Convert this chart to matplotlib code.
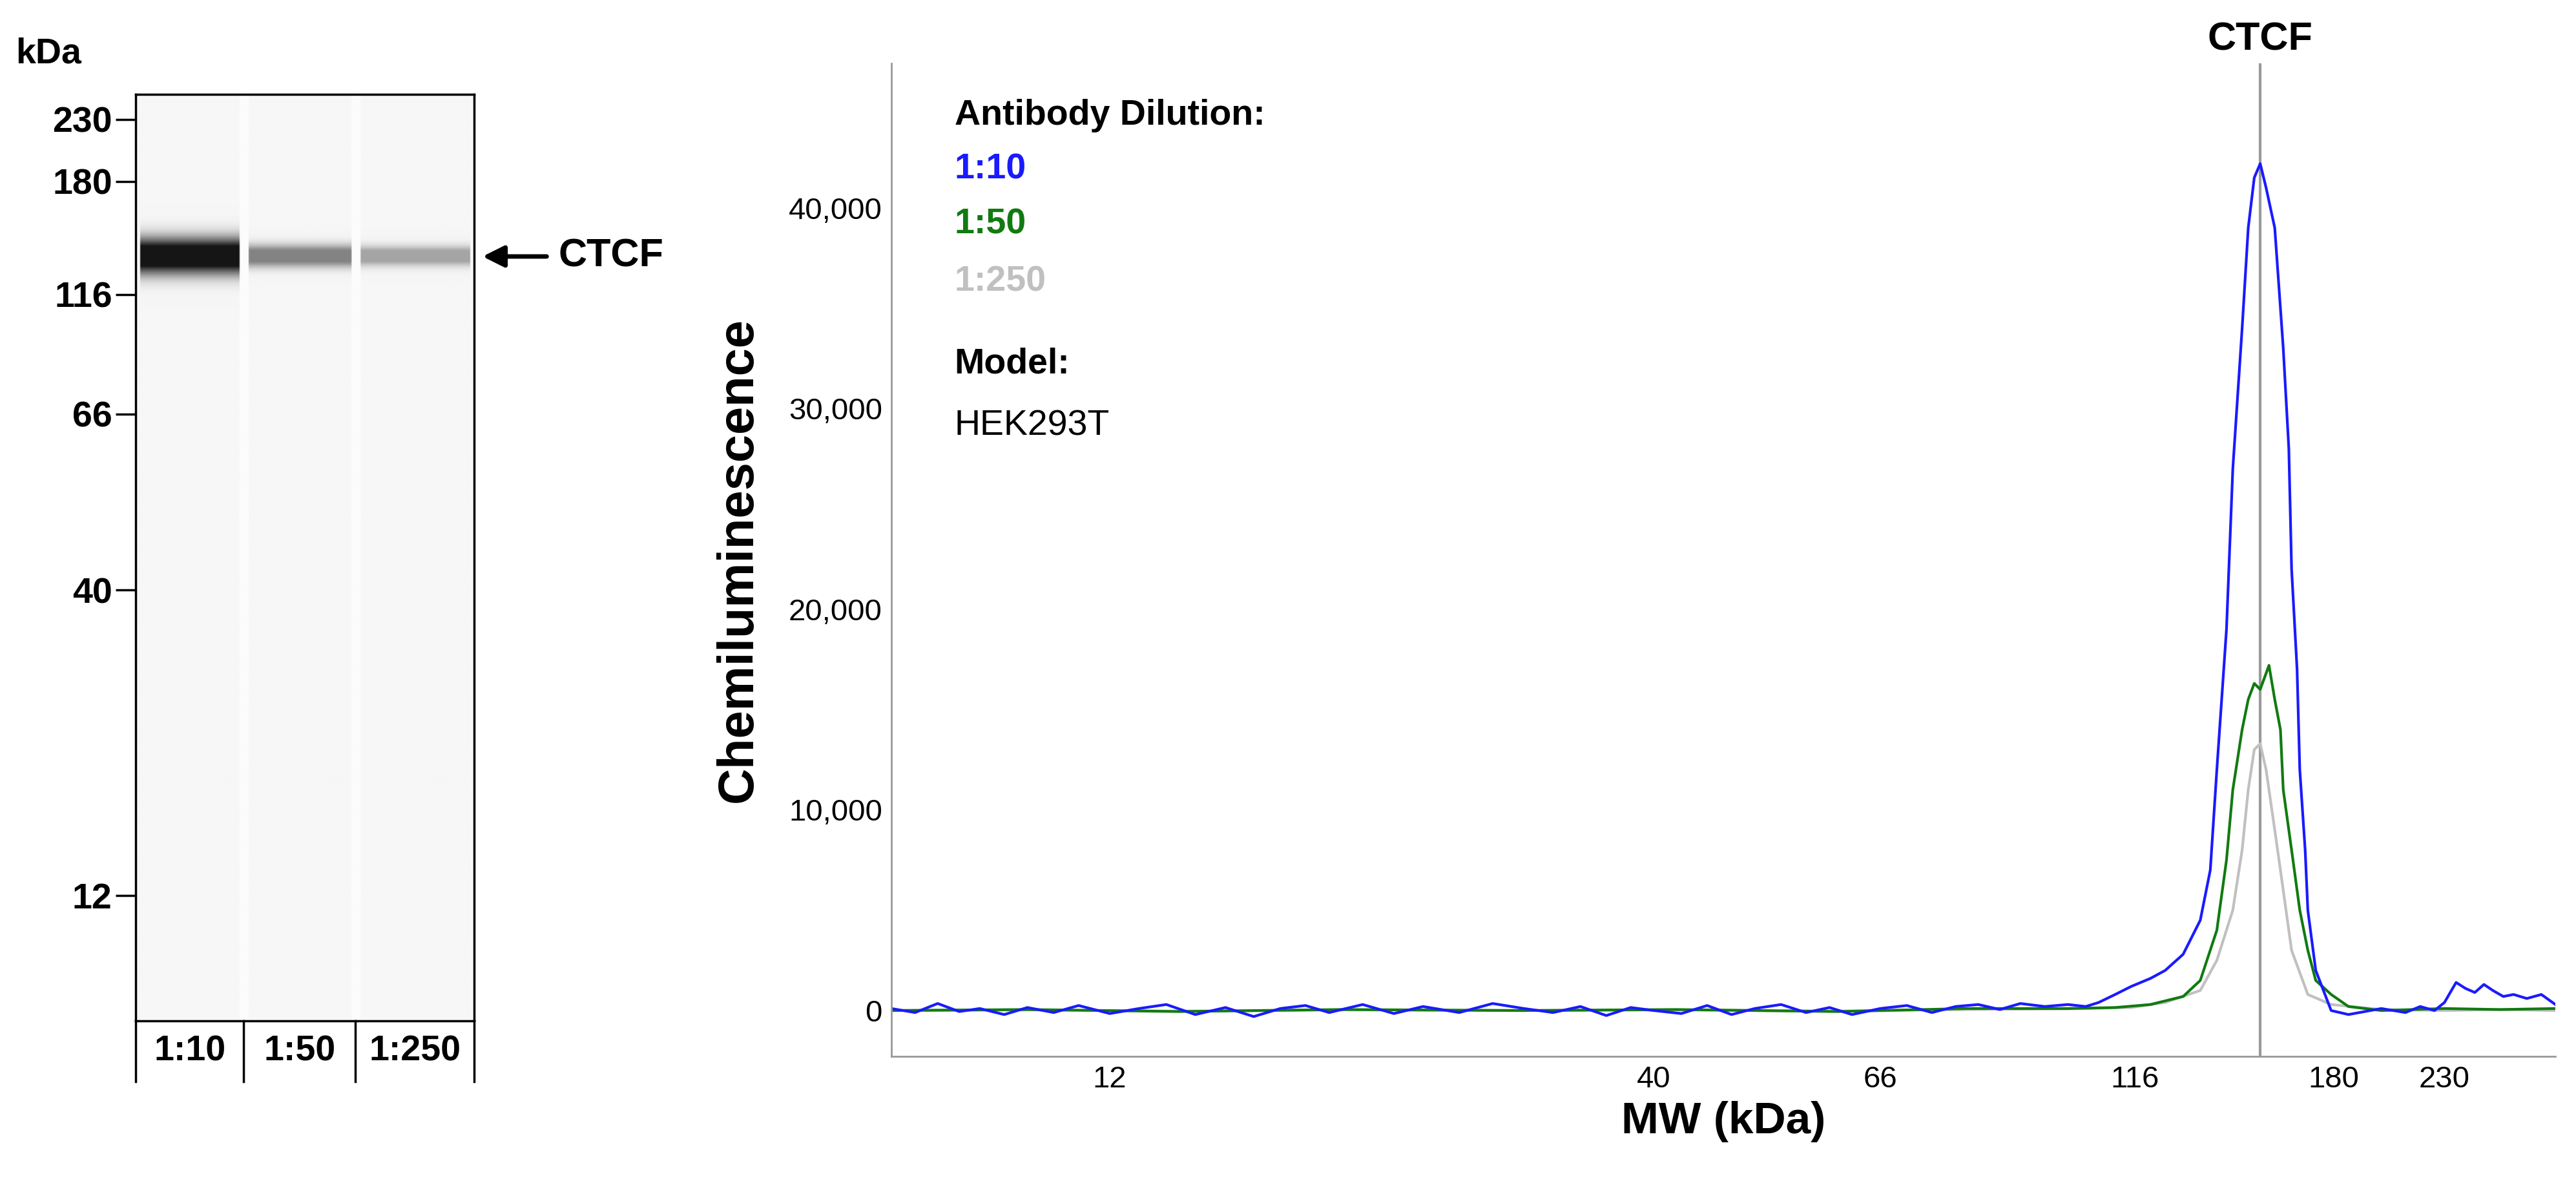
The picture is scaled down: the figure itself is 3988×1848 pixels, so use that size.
import numpy as np
import matplotlib
matplotlib.use("Agg")
import matplotlib.pyplot as plt
from matplotlib.ticker import FixedLocator, NullLocator

plt.rcParams['font.family'] = ['Liberation Sans Narrow', 'Liberation Sans', 'DejaVu Sans']

# ---------------- data ----------------
lane_labels = ["1:10", "1:50", "1:250"]
band_intensity = [0.88, 0.45, 0.32]
band_thickness = [0.030, 0.018, 0.016]
band_pos = 0.175
marker_labels = ["230", "180", "116", "66", "40", "12"]
marker_pos = [0.027, 0.094, 0.216, 0.345, 0.535, 0.865]

mw_ticks = [12, 40, 66, 116, 180, 230]
y_ticks = [0, 10000, 20000, 30000, 40000]
peak_mw = 153

blue_mw = [7.4, 7.8, 8.2, 8.6, 9.0, 9.5, 10.0, 10.6, 11.2, 12.0, 12.8, 13.6, 14.5, 15.5, 16.5, 17.5, 18.5, 19.5, 21, 22.5, 24, 26, 28, 30,
           32, 34, 36, 38, 40, 42.5, 45, 47.5, 50, 53, 56, 59, 62, 66, 70, 74, 78, 82, 86, 90, 95, 100, 104,
           107, 111, 115, 120, 124, 129, 134, 137, 139, 142, 144, 147, 149, 151, 153, 155, 158, 160, 161, 163, 164, 166, 167, 169, 170, 173,
           179, 186, 200, 211, 218, 225, 230, 236, 241, 246, 251, 256, 262, 268, 276, 285, 294]
blue_val = [100, -100, 350, -50, 100, -200, 150, -100, 250, -150, 100, 300, -200, 150, -300, 100, 250, -100, 300, -150, 200, -100, 350, 100,
            -100, 200, -250, 150, 0, -150, 250, -200, 100, 300, -100, 150, -200, 100, 250, -100, 200, 300, 50, 350, 200, 300, 200,
            400, 800, 1200, 1600, 2000, 2800, 4500, 7000, 12000, 19000, 27000, 34000, 39000, 41500, 42200, 41000, 39000, 35000, 33000, 28000, 22000, 17000, 12000, 8000, 5000, 2000,
            0, -200, 100, -100, 200, 0, 400, 1400, 1100, 900, 1300, 1000, 700, 800, 600, 800, 300]

green_mw = [7.4, 10, 14, 20, 30, 42, 60, 80, 100, 111, 120, 129, 134, 139, 142, 144, 147, 149, 151, 153, 155, 156, 158, 160, 161, 164, 167, 170, 173, 179, 186, 200, 230, 260, 294]
green_val = [0, 50, -50, 50, 0, 50, -50, 100, 100, 150, 300, 700, 1500, 4000, 7500, 11000, 14000, 15500, 16300, 16000, 16800, 17200, 15500, 14000, 11000, 8000, 5000, 3000, 1500, 800, 200, 0, 100, 50, 100]

gray_mw = [7.4, 10, 14, 20, 30, 42, 60, 80, 100, 115, 124, 134, 139, 144, 147, 149, 151, 153, 155, 158, 160, 164, 170, 179, 200, 230, 260, 294]
gray_val = [0, 30, -30, 30, 0, 30, -30, 50, 80, 150, 400, 1000, 2500, 5000, 8000, 11000, 13000, 13300, 12000, 9000, 7000, 3000, 800, 300, 50, 0, 50, 0]

# ---------------- figure ----------------
fig = plt.figure(figsize=(39.88, 18.48), dpi=100)

# gel panel
gx0, gx1, gy0, gy1 = 0.0526, 0.184, 0.145, 0.921
axg = fig.add_axes([gx0, gy0, gx1 - gx0, gy1 - gy0])
H, W = 600, 300
yy = (np.arange(H) + 0.5) / H
xx = (np.arange(W) + 0.5) / W
img = np.full((H, W), 0.965)
bounds = [0.0, 0.32, 0.65, 1.0]
for i in range(3):
    m = (xx >= bounds[i] + 0.015) & (xx <= bounds[i + 1] - 0.015)
    prof = np.exp(-0.5 * ((yy - band_pos) / (band_thickness[i] / 2.3)) ** 2)
    prof = np.clip(prof * 1.4, 0, 1)
    img[:, m] -= band_intensity[i] * prof[:, None]
for b in bounds[1:-1]:
    m = np.abs(xx - b) < 0.012
    img[:, m] = 0.985
axg.imshow(img, cmap='gray', vmin=0, vmax=1, extent=[0, 1, 1, 0], aspect='auto', interpolation='bilinear')
axg.set_xlim(0, 1)
axg.set_ylim(1, 0)
axg.set_yticks(marker_pos)
axg.set_yticklabels(marker_labels, fontsize=40, fontweight='bold')
axg.tick_params(axis='y', length=22, width=2.5, pad=4)
axg.set_xticks([])
for s in axg.spines.values():
    s.set_linewidth(2.5)
fig.text(0.006, 0.955, "kDa", fontsize=40, fontweight='bold', va='center')
lane_y0 = (723 - 655) / 723
for b in bounds:
    xf = gx0 + b * (gx1 - gx0)
    fig.add_artist(plt.Line2D([xf, xf], [lane_y0, gy0], color='black', lw=2.5))
for i, lab in enumerate(lane_labels):
    xc = gx0 + (bounds[i] + bounds[i + 1]) / 2 * (gx1 - gx0)
    fig.text(xc, (lane_y0 + gy0) / 2, lab, fontsize=40, fontweight='bold', ha='center', va='center')
axg.annotate("", xy=(1.02, band_pos), xycoords='data',
             xytext=(1.22, band_pos), textcoords='data',
             arrowprops=dict(arrowstyle='-|>', color='black', lw=5, mutation_scale=50),
             annotation_clip=False)
axg.text(1.25, band_pos, "CTCF", fontsize=44, fontweight='bold', va='center', ha='left', clip_on=False)

# trace panel
ax = fig.add_axes([0.346, 0.115, 0.992 - 0.346, 0.947 - 0.115])
ax.set_xscale('log')
ax.plot(gray_mw, gray_val, color='#c0c0c0', lw=3)
ax.plot(green_mw, green_val, color='#117a11', lw=3)
ax.plot(blue_mw, blue_val, color='#1a1aff', lw=3)
ax.axvline(peak_mw, color='#999999', lw=3, zorder=0)
ax.set_xlim(7.4, 294)
ax.set_ylim(-2300, 47200)
ax.xaxis.set_major_locator(FixedLocator(mw_ticks))
ax.xaxis.set_minor_locator(NullLocator())
ax.set_xticklabels([str(t) for t in mw_ticks], fontsize=34)
ax.set_yticks(y_ticks)
ax.set_yticklabels([f"{v:,}" for v in y_ticks], fontsize=34)
ax.tick_params(length=0, pad=10)
for s in ['top', 'right']:
    ax.spines[s].set_visible(False)
for s in ['left', 'bottom']:
    ax.spines[s].set_color('#999999')
    ax.spines[s].set_linewidth(2)
ax.set_xlabel("MW (kDa)", fontsize=50, fontweight='bold', labelpad=8)
ax.set_ylabel("Chemiluminescence", fontsize=56, fontweight='bold', labelpad=30)
ax.text(peak_mw, 1.005, "CTCF", transform=ax.get_xaxis_transform(), ha='center', va='bottom', fontsize=44, fontweight='bold')

tx = 0.038
ax.text(tx, 0.947, "Antibody Dilution:", transform=ax.transAxes, fontsize=40, fontweight='bold', va='center')
ax.text(tx, 0.893, "1:10", transform=ax.transAxes, fontsize=40, fontweight='bold', va='center', color='#1a1aff')
ax.text(tx, 0.838, "1:50", transform=ax.transAxes, fontsize=40, fontweight='bold', va='center', color='#117a11')
ax.text(tx, 0.780, "1:250", transform=ax.transAxes, fontsize=40, fontweight='bold', va='center', color='#c0c0c0')
ax.text(tx, 0.697, "Model:", transform=ax.transAxes, fontsize=40, fontweight='bold', va='center')
ax.text(tx, 0.635, "HEK293T", transform=ax.transAxes, fontsize=40, va='center')

fig.savefig("out.png", dpi=100, facecolor='white')
